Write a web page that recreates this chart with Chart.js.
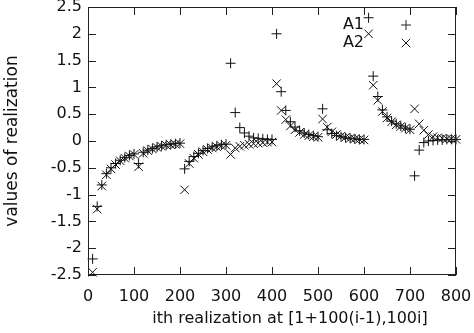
<!DOCTYPE html>
<html>
<head>
<meta charset="utf-8">
<script src="https://cdn.jsdelivr.net/npm/chart.js@4.4.1/dist/chart.umd.min.js"></script>
<style>
  html, body { margin: 0; padding: 0; background: #fff; }
</style>
</head>
<body>
<canvas id="chartRealizacion" width="474" height="333"></canvas>
<script>
// datos (10 puntos por bloque de 100)
const realization = [
  10, 20, 30, 40, 50, 60, 70, 80, 90, 100,
  110, 120, 130, 140, 150, 160, 170, 180, 190, 200,
  210, 220, 230, 240, 250, 260, 270, 280, 290, 300,
  310, 320, 330, 340, 350, 360, 370, 380, 390, 400,
  410, 420, 430, 440, 450, 460, 470, 480, 490, 500,
  510, 520, 530, 540, 550, 560, 570, 580, 590, 600,
  610, 620, 630, 640, 650, 660, 670, 680, 690, 700,
  710, 720, 730, 740, 750, 760, 770, 780, 790, 800
]
const a1Values = [
  -2.2, -1.22, -0.82, -0.61, -0.5, -0.42, -0.36, -0.31, -0.27, -0.24,
  -0.42, -0.21, -0.17, -0.14, -0.11, -0.09, -0.07, -0.06, -0.05, -0.04,
  -0.52, -0.38, -0.29, -0.23, -0.18, -0.14, -0.11, -0.09, -0.07, -0.06,
  1.45, 0.53, 0.25, 0.15, 0.09, 0.06, 0.05, 0.04, 0.03, 0.03,
  2.0, 0.92, 0.57, 0.36, 0.26, 0.19, 0.15, 0.12, 0.1, 0.08,
  0.6, 0.21, 0.14, 0.1, 0.08, 0.06, 0.05, 0.04, 0.03, 0.03,
  2.3, 1.21, 0.83, 0.58, 0.45, 0.37, 0.32, 0.28, 0.24, 0.22,
  -0.65, -0.17, -0.03, 0.0, 0.01, 0.02, 0.02, 0.03, 0.03, 0.03
]
const a2Values = [
  -2.45, -1.27, -0.84, -0.63, -0.52, -0.44, -0.37, -0.32, -0.28, -0.25,
  -0.48, -0.23, -0.18, -0.15, -0.12, -0.1, -0.08, -0.07, -0.06, -0.05,
  -0.91, -0.42, -0.32, -0.25, -0.2, -0.16, -0.13, -0.11, -0.09, -0.08,
  -0.25, -0.13, -0.1, -0.08, -0.06, -0.05, -0.04, -0.03, -0.02, -0.02,
  1.07, 0.57, 0.4, 0.28, 0.21, 0.16, 0.12, 0.1, 0.08, 0.07,
  0.41, 0.26, 0.17, 0.12, 0.09, 0.07, 0.05, 0.04, 0.03, 0.02,
  2.0, 1.04, 0.76, 0.55, 0.43, 0.36, 0.3, 0.27, 0.24, 0.21,
  0.6, 0.32, 0.2, 0.12, 0.08, 0.06, 0.05, 0.04, 0.04, 0.03
]
const seriesLabels = ["A1", "A2"]
const xTicks = [0, 100, 200, 300, 400, 500, 600, 700, 800]
const yTicks = [-2.5, -2, -1.5, -1, -0.5, 0, 0.5, 1, 1.5, 2, 2.5]
const xTitle = "ith realization at [1+100(i-1),100i]"
const yTitle = "values of realization"

const INK = "#111"
Chart.defaults.font.family = "'DejaVu Sans', sans-serif"
Chart.defaults.color = INK

// marco y marcas hacia dentro, estilo gnuplot
const marcoGnuplot = {
  id: "marcoGnuplot",
  afterDraw(chart) {
    const { ctx, chartArea: a, scales } = chart
    const len = 8
    ctx.save()
    ctx.strokeStyle = "#222"
    ctx.lineWidth = 1
    ctx.strokeRect(Math.round(a.left) + 0.5, Math.round(a.top) + 0.5, Math.round(a.right - a.left) - 1, Math.round(a.bottom - a.top) - 1)
    ctx.beginPath()
    xTicks.forEach((v) => {
      const x = Math.round(scales.x.getPixelForValue(v)) + 0.5
      ctx.moveTo(x, a.bottom); ctx.lineTo(x, a.bottom - len)
      ctx.moveTo(x, a.top); ctx.lineTo(x, a.top + len)
    })
    yTicks.forEach((v) => {
      const y = Math.round(scales.y.getPixelForValue(v)) + 0.5
      ctx.moveTo(a.left, y); ctx.lineTo(a.left + len, y)
      ctx.moveTo(a.right, y); ctx.lineTo(a.right - len, y)
    })
    ctx.stroke()

    ctx.fillStyle = INK
    ctx.textBaseline = "middle"

    // titulo eje x (en gnuplot queda algo a la derecha del centro)
    ctx.font = "16px 'DejaVu Sans'"
    ctx.textAlign = "center"
    ctx.fillText(xTitle, 290, 319)

    // leyenda: texto a la izquierda, marca a la derecha
    ctx.textAlign = "right"
    const filas = [25, 43]
    chart.data.datasets.forEach((ds, i) => {
      ctx.fillText(seriesLabels[i], 364, filas[i])
      Chart.helpers.drawPoint(ctx, { pointStyle: ds.pointStyle, radius: ds.pointRadius, borderWidth: 1 }, 406, filas[i])
    })
    ctx.restore()
  },
}

new Chart(document.getElementById("chartRealizacion"), {
  type: "scatter",
  data: {
    datasets: [
      {
        label: seriesLabels[0],
        data: realization.map((x, i) => ({ x: x, y: a1Values[i] })),
        pointStyle: "cross",
        pointRadius: 5,
        borderColor: INK,
        backgroundColor: INK,
        borderWidth: 1,
        clip: false,
      },
      {
        label: seriesLabels[1],
        data: realization.map((x, i) => ({ x: x, y: a2Values[i] })),
        pointStyle: "crossRot",
        pointRadius: 6,
        borderColor: INK,
        backgroundColor: INK,
        borderWidth: 1,
        clip: false,
      },
    ],
  },
  options: {
    responsive: false,
    animation: false,
    events: [],
    layout: { padding: { top: 7, right: 18, left: 0, bottom: 0 } },
    plugins: { legend: { display: false }, tooltip: { enabled: false } },
    scales: {
      x: {
        type: "linear",
        min: 0,
        max: 800,
        afterBuildTicks: (scale) => { scale.ticks = xTicks.map((v) => ({ value: v })) },
        grid: { display: false, drawTicks: false },
        border: { display: false },
        ticks: { padding: 12, maxRotation: 0, autoSkip: false, font: { size: 16 }, callback: (v) => String(v) },
        title: { display: false },
        afterFit: (scale) => { scale.height = 58; scale.paddingLeft = 0; scale.paddingRight = 0 },
      },
      y: {
        type: "linear",
        min: -2.5,
        max: 2.5,
        afterBuildTicks: (scale) => { scale.ticks = yTicks.map((v) => ({ value: v })) },
        grid: { display: false, drawTicks: false },
        border: { display: false },
        ticks: { padding: 6, autoSkip: false, font: { size: 16 }, callback: (v) => String(v) },
        title: { display: true, text: yTitle, font: { size: 17 }, padding: { top: 2, bottom: 0 } },
        afterFit: (scale) => { scale.width = 88; scale.paddingTop = 0; scale.paddingBottom = 0 },
      },
    },
  },
  plugins: [marcoGnuplot],
})
</script>
</body>
</html>
